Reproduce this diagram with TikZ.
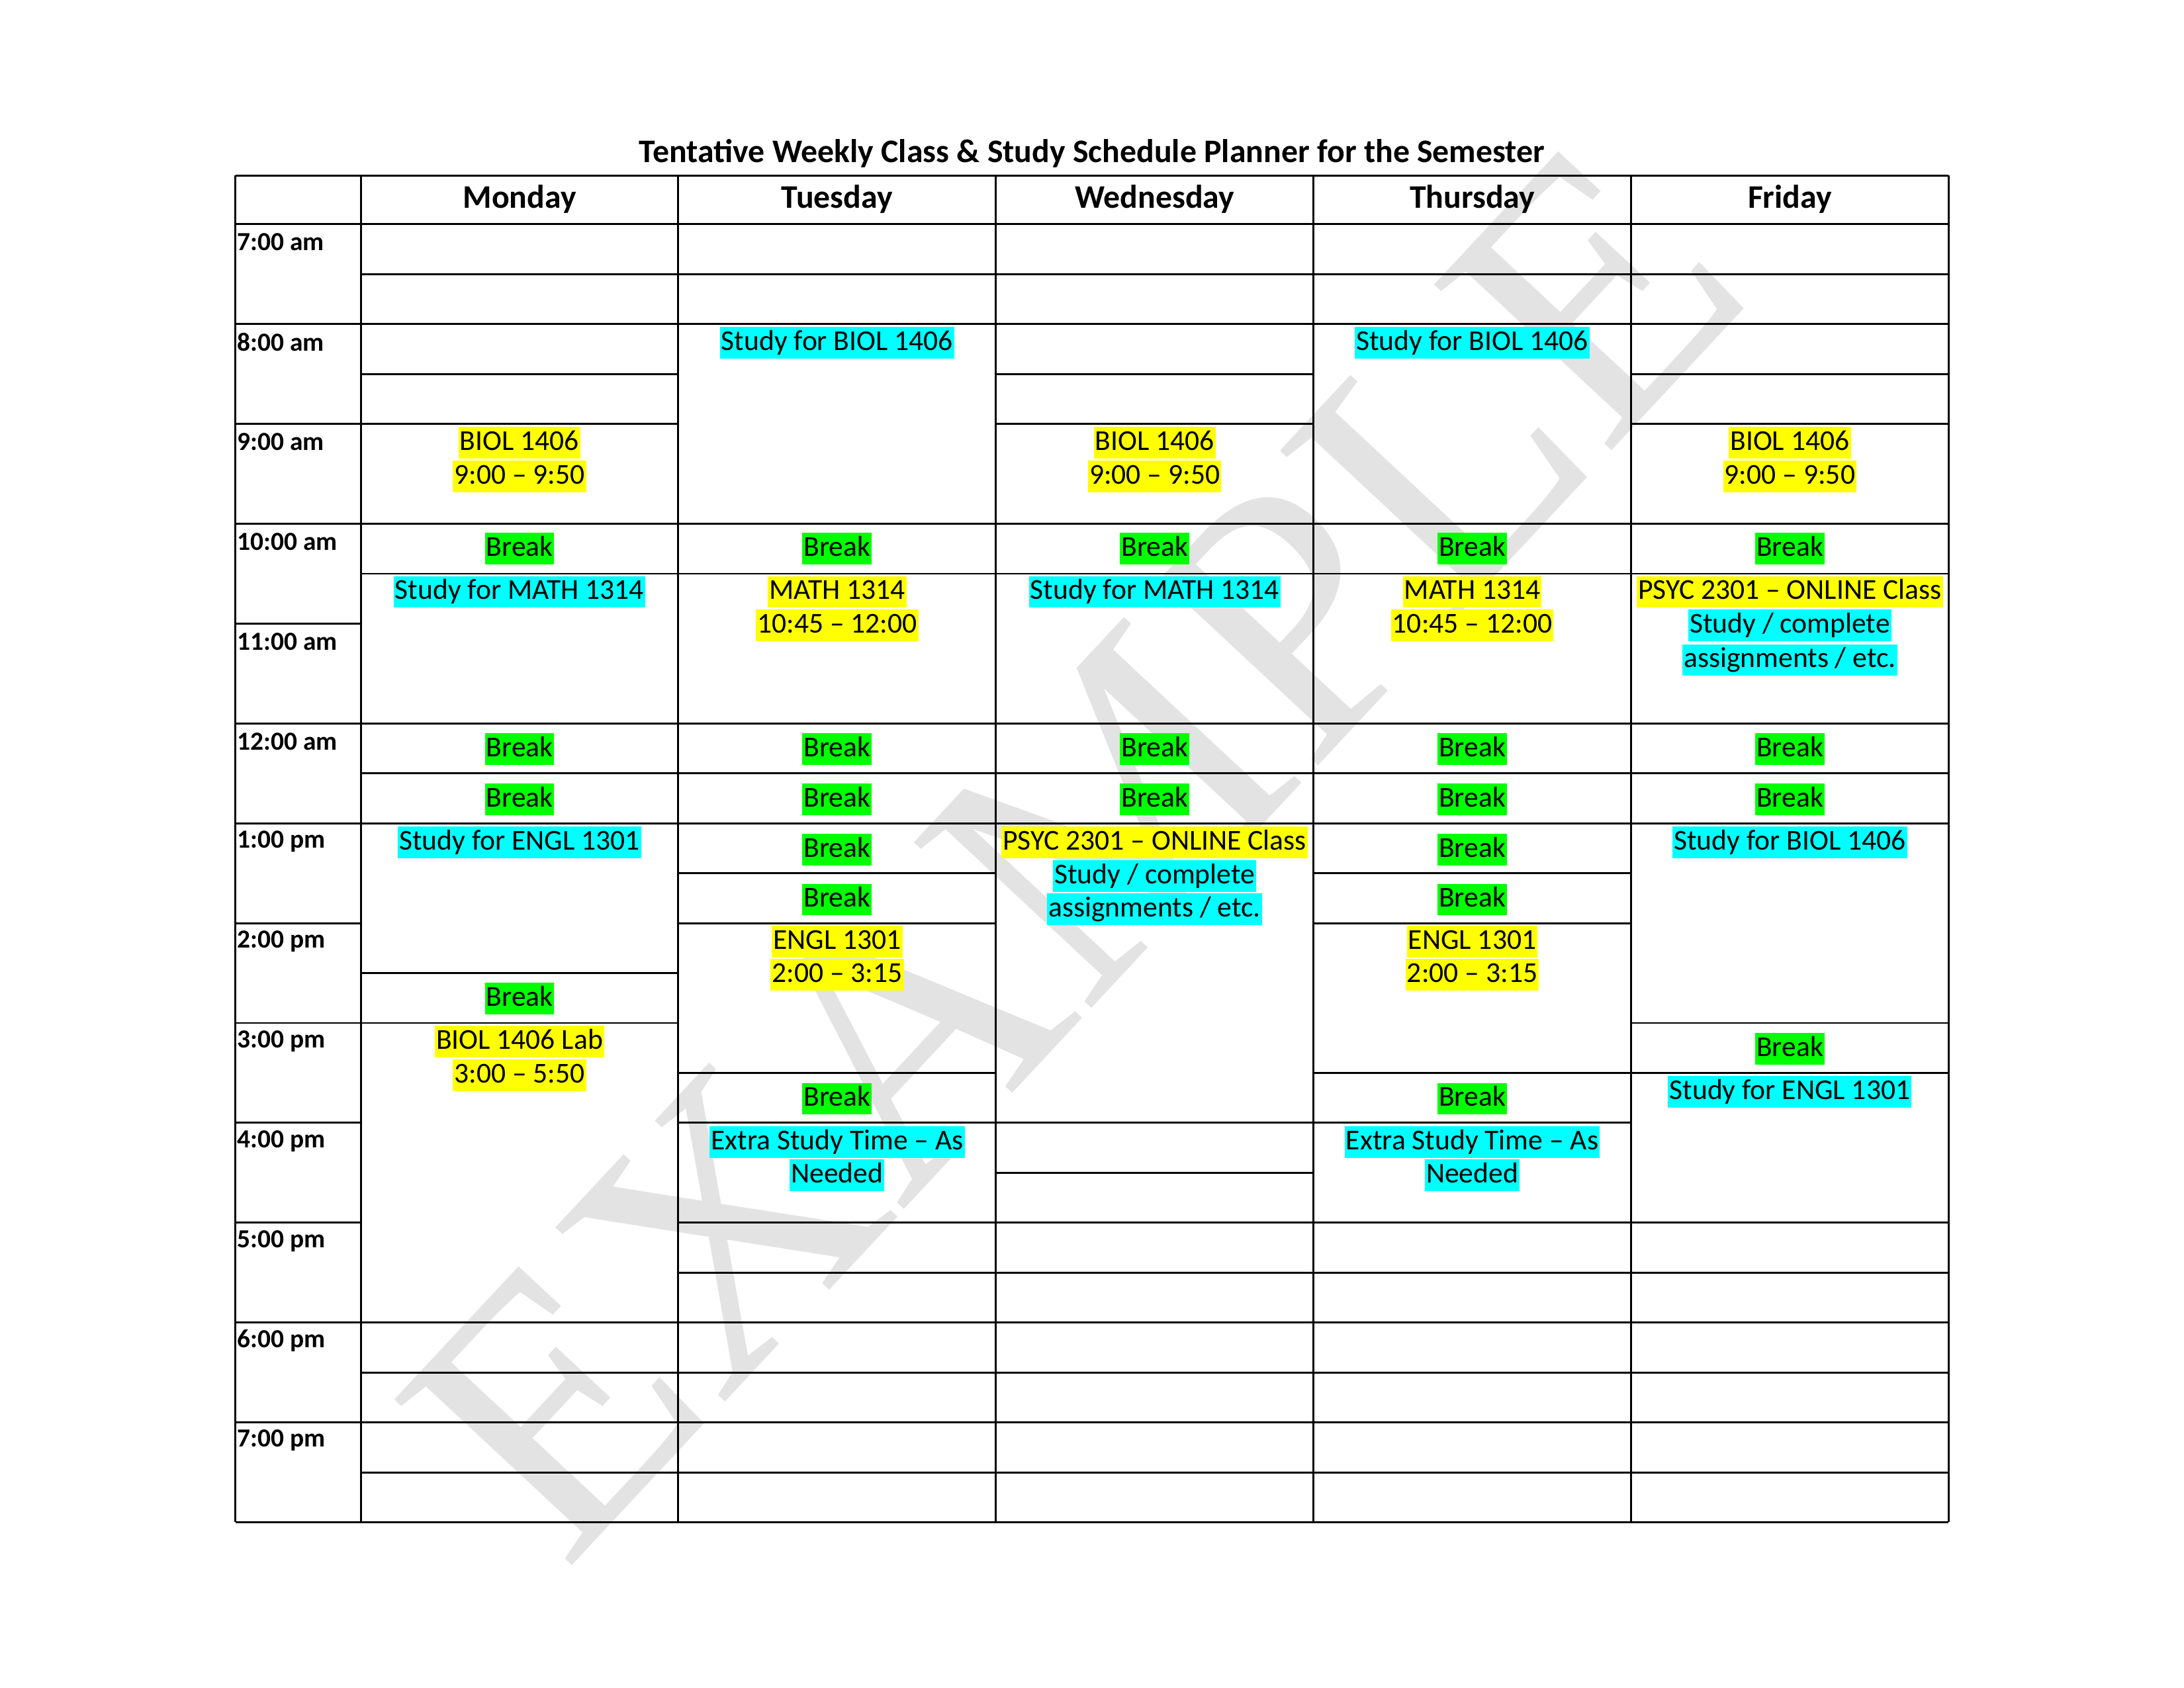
\documentclass[tikz,border=0pt]{standalone}
\usepackage{fontspec}
\setmainfont{Carlito}
\newfontfamily\wmfont{Liberation Serif}
\definecolor{hlyellow}{RGB}{255,255,0}
\definecolor{hlcyan}{RGB}{0,255,255}
\definecolor{hlgreen}{RGB}{0,255,0}

\begin{document}
\begin{tikzpicture}[x=0.01782cm,y=-0.01782cm,
                    grid/.style={draw=black, line width=0.7pt},
                    cell/.style={inner sep=0.5pt, text height=8pt, text depth=2.5pt,
                                 font=\fontsize{10.5}{12}\selectfont},
                    dayhead/.style={font=\bfseries\fontsize{12}{14}\selectfont},
                    hour/.style={anchor=west, inner sep=0pt, font=\bfseries\fontsize{9.5}{10}\selectfont}]
 \useasboundingbox (0,0) rectangle (1568,1212);
 % watermark
 \node [rotate=47, text=gray!22, font=\wmfont\fontsize{135}{135}\selectfont] (watermark) at (770,610) {EXAMPLE};
 \node [font=\bfseries\fontsize{12}{14}\selectfont] (title) at (784,110)
       {Tentative Weekly Class \& Study Schedule Planner for the Semester};

 % frame
 \foreach \x in {169,259,487,715,943,1171,1399}
   \draw [grid] (\x,126) -- (\x,1093);
 \draw [grid] (169,126) -- (1399,126);
 \foreach \r in {0,2,...,26}
   \draw [grid] (169,161+\r*35.85) -- (259,161+\r*35.85);
 \foreach \c/\rows in {0/{0,1,2,3,4,6,7,10,11,12,15,16,22,23,24,25,26},
                       1/{0,1,2,6,7,10,11,12,13,14,17,18,20,21,22,23,24,25,26},
                       2/{0,1,2,3,4,6,7,10,11,12,18,19,20,21,22,23,24,25,26},
                       3/{0,1,2,6,7,10,11,12,13,14,17,18,20,21,22,23,24,25,26},
                       4/{0,1,2,3,4,6,7,10,11,12,16,17,20,21,22,23,24,25,26}}
   \foreach \r in \rows
     \draw [grid] (259+228*\c,161+\r*35.85) -- ++(228,0);

 % days and hours
 \foreach \d [count=\c from 0] in {Monday,Tuesday,Wednesday,Thursday,Friday}
   \node [dayhead] (day\c) at (373+228*\c,143) {\d};
 \foreach \h [count=\i from 0] in {7:00 am,8:00 am,9:00 am,10:00 am,11:00 am,12:00 am,
                                    1:00 pm,2:00 pm,3:00 pm,4:00 pm,5:00 pm,6:00 pm,7:00 pm}
   \node [hour] (hour\i) at (170,161+\i*71.7+13) {\h};

 % entries
 \foreach \c/\y/\col/\t [count=\i] in {
   0/318/hlyellow/BIOL 1406, 0/342/hlyellow/9:00 – 9:50, 0/394/hlgreen/Break,
   0/425/hlcyan/Study for MATH 1314, 0/538/hlgreen/Break, 0/574/hlgreen/Break,
   0/605/hlcyan/Study for ENGL 1301, 0/717/hlgreen/Break,
   0/748/hlyellow/BIOL 1406 Lab, 0/772/hlyellow/3:00 – 5:50,
   1/246/hlcyan/Study for BIOL 1406, 1/394/hlgreen/Break,
   1/425/hlyellow/MATH 1314, 1/449/hlyellow/10:45 – 12:00,
   1/538/hlgreen/Break, 1/574/hlgreen/Break, 1/610/hlgreen/Break, 1/646/hlgreen/Break,
   1/676/hlyellow/ENGL 1301, 1/700/hlyellow/2:00 – 3:15, 1/789/hlgreen/Break,
   1/820/hlcyan/Extra Study Time – As, 1/844/hlcyan/Needed,
   2/318/hlyellow/BIOL 1406, 2/342/hlyellow/9:00 – 9:50, 2/394/hlgreen/Break,
   2/425/hlcyan/Study for MATH 1314, 2/538/hlgreen/Break, 2/574/hlgreen/Break,
   2/605/hlyellow/PSYC 2301 – ONLINE Class, 2/629/hlcyan/{Study / complete},
   2/653/hlcyan/{assignments / etc.},
   3/246/hlcyan/Study for BIOL 1406, 3/394/hlgreen/Break,
   3/425/hlyellow/MATH 1314, 3/449/hlyellow/10:45 – 12:00,
   3/538/hlgreen/Break, 3/574/hlgreen/Break, 3/610/hlgreen/Break, 3/646/hlgreen/Break,
   3/676/hlyellow/ENGL 1301, 3/700/hlyellow/2:00 – 3:15, 3/789/hlgreen/Break,
   3/820/hlcyan/Extra Study Time – As, 3/844/hlcyan/Needed,
   4/318/hlyellow/BIOL 1406, 4/342/hlyellow/9:00 – 9:50, 4/394/hlgreen/Break,
   4/425/hlyellow/PSYC 2301 – ONLINE Class, 4/449/hlcyan/{Study / complete},
   4/474/hlcyan/{assignments / etc.}, 4/538/hlgreen/Break, 4/574/hlgreen/Break,
   4/605/hlcyan/Study for BIOL 1406, 4/753/hlgreen/Break,
   4/784/hlcyan/Study for ENGL 1301}
   \node [cell, fill=\col] (entry\i) at (373+228*\c,\y) {\t};
\end{tikzpicture}
\end{document}
